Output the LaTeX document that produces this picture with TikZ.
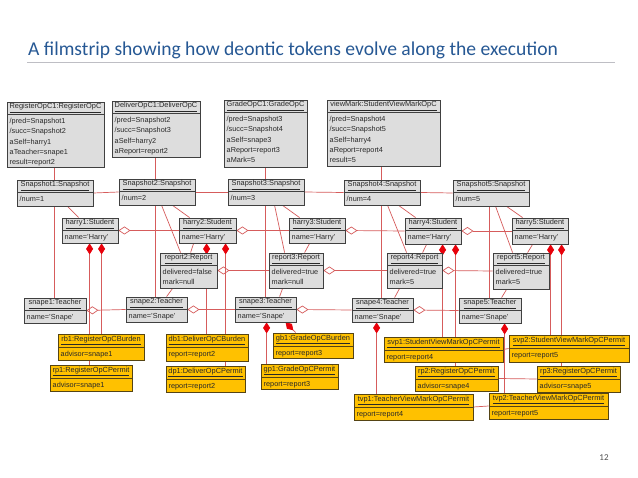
\documentclass[tikz,border=0pt]{standalone}
\usepackage{fontspec}
\setmainfont{Liberation Sans}
\newfontfamily\titlefont{Carlito}
\usetikzlibrary{arrows.meta,backgrounds}

\definecolor{boxgray}{RGB}{221,221,221}
\definecolor{boxedge}{RGB}{64,64,64}
\definecolor{tokyel}{RGB}{255,193,0}
\definecolor{yeledge}{RGB}{85,68,20}
\definecolor{linkred}{RGB}{214,92,92}
\definecolor{compred}{RGB}{232,0,10}
\definecolor{titleblue}{RGB}{38,88,148}
\definecolor{txtdark}{RGB}{40,40,40}

\tikzset{
  objgray/.style={draw=boxedge, fill=boxgray, line width=0.8pt, inner sep=0pt},
  objyel/.style={draw=yeledge, fill=tokyel, line width=0.8pt, inner sep=0pt},
  hdrtext/.style={font=\fontsize{7.4}{8}\selectfont, inner sep=0pt, text=txtdark},
  bodytext/.style={font=\fontsize{7.3}{10.3}\selectfont, inner sep=0pt, align=left, text=txtdark},
  link/.style={draw=linkred, line width=0.7pt},
  succlink/.style={link, {Diamond[length=12pt,width=8pt,fill=white]}-},
  complink/.style={link, {Diamond[length=11pt,width=7pt,fill=compred,color=compred]}-},
}

% #1 name, #2 x1, #3 y1, #4 x2, #5 y2, #6 header height, #7 style, #8 header, #9 body
\newcommand\umlobj[9]{%
  \pgfmathsetmacro\objw{#4-#2}%
  \pgfmathsetmacro\objh{#5-#3}%
  \node[#7, minimum width=\objw pt, minimum height=\objh pt] (#1) at ({(#2+#4)/2},{(#3+#5)/2}) {};
  \draw[#7, fill=none] (#2,#3+#6) -- (#4,#3+#6);
  \node[hdrtext] (#1-h) at ({(#2+#4)/2},{#3+#6/2}) {\underline{#8}};
  \node[bodytext, anchor=north west] (#1-b) at (#2+2.5,#3+#6+4.2) {#9};
}

\begin{document}
\begin{tikzpicture}[x=1pt,y=-1pt]
\useasboundingbox (0,0) rectangle (638,478);

% title
\node[anchor=base west, inner sep=0pt, font=\titlefont\fontsize{19.6}{22}\selectfont, text=titleblue] (title) at (28,56) {A filmstrip showing how deontic tokens evolve along the execution};
\coordinate (tl1) at (27,63);
\coordinate (tl2) at (615,63);
\draw[draw={rgb,255:red,190;green,190;blue,196}, line width=1pt] (tl1) -- (tl2);
\node[inner sep=0pt, font=\titlefont\fontsize{9}{10}\selectfont, text={rgb,255:red,80;green,80;blue,80}] (pg) at (604,458) {12};

% operations
\umlobj{op1}{7}{102}{104}{167}{12}{objgray}{RegisterOpC1:RegisterOpC}{/pred=Snapshot1\\/succ=Snapshot2\\aSelf=harry1\\aTeacher=snape1\\result=report2}
\umlobj{op2}{112}{101}{200}{157}{12}{objgray}{DeliverOpC1:DeliverOpC}{/pred=Snapshot2\\/succ=Snapshot3\\aSelf=harry2\\aReport=report2}
\umlobj{op3}{224}{100}{307}{167}{12}{objgray}{GradeOpC1:GradeOpC}{/pred=Snapshot3\\/succ=Snapshot4\\aSelf=snape3\\aReport=report3\\aMark=5}
\umlobj{op4}{327}{100}{440}{166}{12}{objgray}{viewMark:StudentViewMarkOpC}{/pred=Snapshot4\\/succ=Snapshot5\\aSelf=harry4\\aReport=report4\\result=5}

% snapshots
\umlobj{s1}{17}{180}{93}{206}{12}{objgray}{Snapshot1:Snapshot}{/num=1}
\umlobj{s2}{119}{179}{195}{205}{12}{objgray}{Snapshot2:Snapshot}{/num=2}
\umlobj{s3}{228}{179}{304}{205}{12}{objgray}{Snapshot3:Snapshot}{/num=3}
\umlobj{s4}{344}{180}{420}{205}{12}{objgray}{Snapshot4:Snapshot}{/num=4}
\umlobj{s5}{453}{180}{529}{206}{12}{objgray}{Snapshot5:Snapshot}{/num=5}

% students
\umlobj{h1}{62}{218}{118}{243}{12}{objgray}{harry1:Student}{name='Harry'}
\umlobj{h2}{179}{218}{236}{243}{12}{objgray}{harry2:Student}{name='Harry'}
\umlobj{h3}{289}{218}{345}{243}{12}{objgray}{harry3:Student}{name='Harry'}
\umlobj{h4}{405}{218}{461}{244}{12}{objgray}{harry4:Student}{name='Harry'}
\umlobj{h5}{512}{218}{568}{244}{12}{objgray}{harry5:Student}{name='Harry'}

% reports
\umlobj{r2}{160}{253}{217}{288}{12}{objgray}{report2:Report}{delivered=false\\mark=null}
\umlobj{r3}{269}{253}{323}{288}{12}{objgray}{report3:Report}{delivered=true\\mark=null}
\umlobj{r4}{387}{253}{442}{288}{12}{objgray}{report4:Report}{delivered=true\\mark=5}
\umlobj{r5}{493}{253}{549}{289}{12}{objgray}{report5:Report}{delivered=true\\mark=5}

% teachers
\umlobj{t1}{24}{298}{86}{323}{12}{objgray}{snape1:Teacher}{name='Snape'}
\umlobj{t2}{126}{297}{187}{322}{12}{objgray}{snape2:Teacher}{name='Snape'}
\umlobj{t3}{235}{297}{296}{322}{12}{objgray}{snape3:Teacher}{name='Snape'}
\umlobj{t4}{352}{298}{413}{322}{12}{objgray}{snape4:Teacher}{name='Snape'}
\umlobj{t5}{459}{298}{521}{323}{12}{objgray}{snape5:Teacher}{name='Snape'}

% deontic tokens
\umlobj{rb1}{58}{334}{144}{360}{13}{objyel}{rb1:RegisterOpCBurden}{advisor=snape1}
\umlobj{rp1}{50}{365}{132}{391}{13}{objyel}{rp1:RegisterOpCPermit}{advisor=snape1}
\umlobj{db1}{166}{334}{248}{361}{13}{objyel}{db1:DeliverOpCBurden}{report=report2}
\umlobj{dp1}{166}{366}{245}{392}{13}{objyel}{dp1:DeliverOpCPermit}{report=report2}
\umlobj{gb1}{273}{333}{353}{358}{13}{objyel}{gb1:GradeOpCBurden}{report=report3}
\umlobj{gp1}{261}{364}{338}{389}{13}{objyel}{gp1:GradeOpCPermit}{report=report3}
\umlobj{svp1}{384}{337}{503}{362}{13}{objyel}{svp1:StudentViewMarkOpCPermit}{report=report4}
\umlobj{svp2}{509}{335}{629}{362}{13}{objyel}{svp2:StudentViewMarkOpCPermit}{report=report5}
\umlobj{rp2}{415}{366}{498}{391}{13}{objyel}{rp2:RegisterOpCPermit}{advisor=snape4}
\umlobj{rp3}{537}{366}{620}{392}{13}{objyel}{rp3:RegisterOpCPermit}{advisor=snape5}
\umlobj{tvp1}{354}{394}{473}{420}{13}{objyel}{tvp1:TeacherViewMarkOpCPermit}{report=report4}
\umlobj{tvp2}{489}{393}{608}{419}{13}{objyel}{tvp2:TeacherViewMarkOpCPermit}{report=report5}

\begin{pgfonlayer}{background}
\fill[white] (0,0) rectangle (638,478);

% operation -> snapshot
\draw[link] ([xshift=48]op1.south west) -- ([xshift=38]s1.north west);
\draw[link] ([xshift=44]op2.south west) -- ([xshift=37]s2.north west);
\draw[link] ([xshift=42]op3.south west) -- ([xshift=38]s3.north west);
\draw[link] ([xshift=55]op4.south west) -- ([xshift=38]s4.north west);

% snapshot chain
\draw[link] (s1.east) -- (s2.west);
\draw[link] (s2.east) -- (s3.west);
\draw[link] (s3.east) -- (s4.west);
\draw[link] (s4.east) -- (s5.west);

% snapshot -> objects
\draw[link] ([xshift=38]s1.south west) -- ([xshift=31]t1.north west);
\draw[link] ([xshift=51]s1.south west) -- ([xshift=17]h1.north west);
\draw[link] ([xshift=37]s2.south west) -- ([xshift=30]t2.north west);
\draw[link] ([xshift=43]s2.south west) -- ([xshift=21]r2.north west);
\draw[link] ([xshift=54]s2.south west) -- ([xshift=11]h2.north west);
\draw[link] ([xshift=38]s3.south west) -- ([xshift=31]t3.north west);
\draw[link] ([xshift=47]s3.south west) -- ([xshift=16]r3.north west);
\draw[link] ([xshift=55]s3.south west) -- ([xshift=11]h3.north west);
\draw[link] ([xshift=38]s4.south west) -- ([xshift=30]t4.north west);
\draw[link] ([xshift=44]s4.south west) -- ([xshift=20]r4.north west);
\draw[link] ([xshift=55]s4.south west) -- ([xshift=11]h4.north west);
\draw[link] ([xshift=37]s5.south west) -- ([xshift=31]t5.north west);
\draw[link] ([xshift=43]s5.south west) -- ([xshift=20]r5.north west);
\draw[link] ([xshift=54]s5.south west) -- ([xshift=11]h5.north west);

% successor links (hollow diamonds)
\draw[succlink] (h1.east) -- (h2.west);
\draw[succlink] (h2.east) -- (h3.west);
\draw[succlink] (h3.east) -- (h4.west);
\draw[succlink] (h4.east) -- (h5.west);
\draw[succlink] (r2.east) -- (r3.west);
\draw[succlink] (r3.east) -- (r4.west);
\draw[succlink] (r4.east) -- (r5.west);
\draw[succlink] (t1.east) -- (t2.west);
\draw[succlink] (t2.east) -- (t3.west);
\draw[succlink] (t3.east) -- (t4.west);
\draw[succlink] (t4.east) -- (t5.west);

% student -> report, report -> teacher
\draw[link] ([xshift=15]h2.south west) -- ([xshift=31]r2.north west);
\draw[link] ([xshift=21]h3.south west) -- ([xshift=36]r3.north west);
\draw[link] ([xshift=22]h4.south west) -- ([xshift=36]r4.north west);
\draw[link] ([xshift=21]h5.south west) -- ([xshift=35]r5.north west);
\draw[link] ([xshift=13]r2.south west) -- ([xshift=41]t2.north west);
\draw[link] ([xshift=14]r3.south west) -- ([xshift=45]t3.north west);
\draw[link] ([xshift=13]r4.south west) -- ([xshift=43]t4.north west);
\draw[link] ([xshift=14]r5.south west) -- ([xshift=43]t5.north west);

% compositions (filled diamonds)
\draw[complink] ([xshift=28]h1.south west) -- ([xshift=40]rp1.north west);
\draw[complink] ([xshift=40]h1.south west) -- ([xshift=44]rb1.north west);
\draw[complink] ([xshift=28]h2.south west) -- ([xshift=41]db1.north west);
\draw[complink] ([xshift=47]h2.south west) -- ([xshift=60]dp1.north west);
\draw[complink] ([xshift=32]t3.south west) -- ([xshift=6]gp1.north west);
\draw[complink] ([xshift=51]t3.south west) -- ([xshift=23]gb1.north west);
\draw[complink] ([xshift=25]t4.south west) -- ([xshift=23]tvp1.north west);
\draw[complink] ([xshift=38]h4.south west) -- ([xshift=59]svp1.north west);
\draw[complink] ([xshift=51]h4.south west) -- ([xshift=41]rp2.north west);
\draw[complink] ([xshift=39]h5.south west) -- ([xshift=42]svp2.north west);
\draw[complink] ([xshift=50]h5.south west) -- ([xshift=25]rp3.north west);
\draw[complink] ([xshift=46]t5.south west) -- ([xshift=16]tvp2.north west);

% token successor links
\draw[link] (svp1.east) -- (svp2.west);
\draw[link] (rp2.east) -- (rp3.west);
\draw[link] (tvp1.east) -- (tvp2.west);
\end{pgfonlayer}
\end{tikzpicture}
\end{document}
